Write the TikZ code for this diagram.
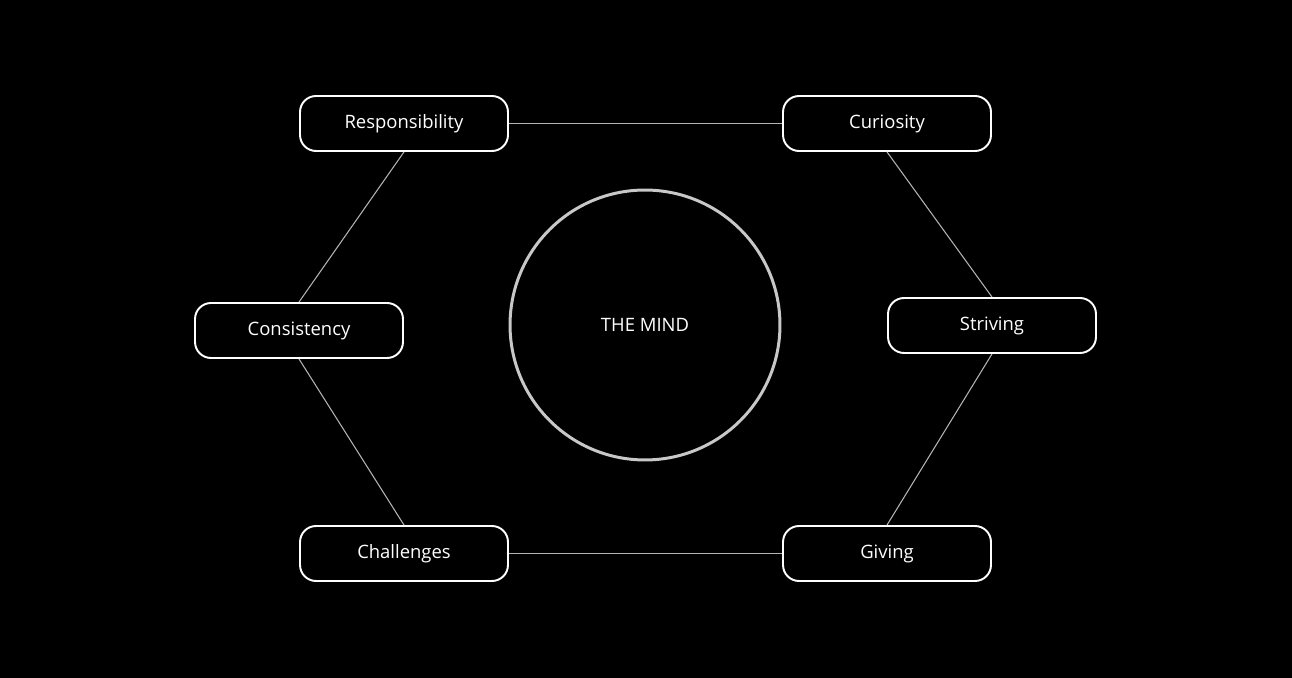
\documentclass[tikz,border=0pt]{standalone}
\usepackage{fontspec}
\setmainfont{Open Sans}
\usetikzlibrary{positioning}
\definecolor{edgegray}{HTML}{B4B4B4}
\definecolor{ringgray}{HTML}{C8C8C8}

\begin{document}
\begin{tikzpicture}[%
        x = 0.02cm, y = -0.02cm,
        trait/.style = {draw = white, line width = 1.1pt, rounded corners = 0.32cm,
            minimum width = 4.16cm, minimum height = 1.1cm, text = white,
            font = \fontsize{10.5}{12}\selectfont},
        link/.style = {draw = edgegray, line width = 0.6pt}
    ]

        % Background and fixed frame.
        \fill[black] (0, 0) rectangle (1292, 678);

        % Positions for all of the traits.
        \node[trait] (resp) at (404, 123.5) {Responsibility};
        \node[trait] (cur) at (887, 123.5) {Curiosity};
        \node[trait] (cons) at (299, 330.5) {Consistency};
        \node[trait] (striv) at (992, 325.5) {Striving};
        \node[trait] (chal) at (404, 553.5) {Challenges};
        \node[trait] (giv) at (887, 553.5) {Giving};

        % The mind in the middle.
        \node[circle, draw = ringgray, line width = 1.7pt, minimum size = 5.4cm,
            text = white, font = \fontsize{10.5}{12}\selectfont] (mind) at (645, 325) {THE MIND};

        % Connect the traits around the ring.
        \draw[link] (resp.east) to (cur.west);
        \draw[link] (resp.south) to (cons.north);
        \draw[link] (cons.south) to (chal.north);
        \draw[link] (chal.east) to (giv.west);
        \draw[link] (giv.north) to (striv.south);
        \draw[link] (striv.north) to (cur.south);
    \end{tikzpicture}
\end{document}
